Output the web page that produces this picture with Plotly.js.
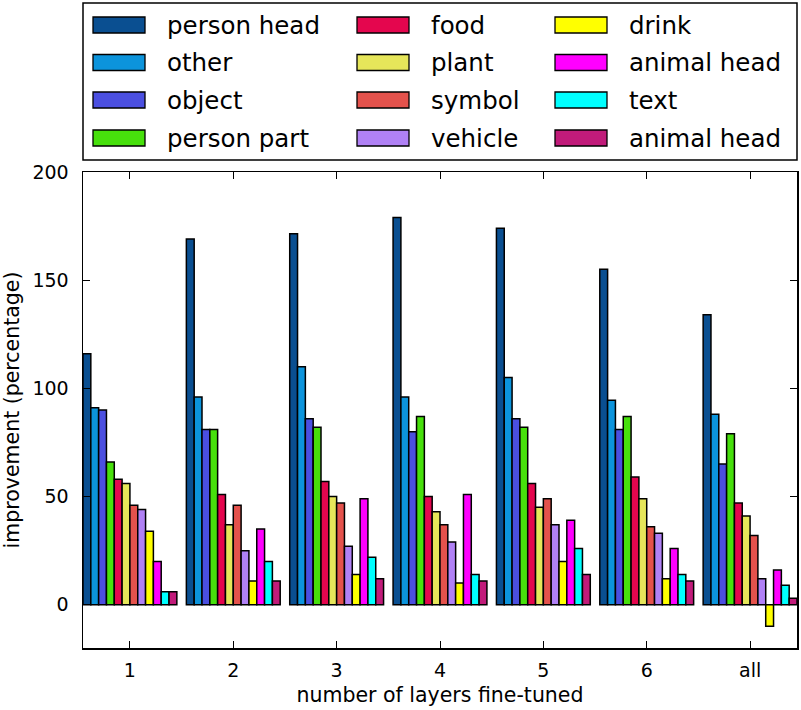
<!DOCTYPE html>
<html>
<head>
<meta charset="utf-8">
<script src="https://cdn.plot.ly/plotly-3.0.1.min.js"></script>
<style>html,body{margin:0;padding:0;background:#fff;}#chart{width:801px;height:710px;}</style>
</head>
<body>
<div id="chart"></div>
<script>
// ---- data ----
var groups = ['1', '2', '3', '4', '5', '6', 'all'];
var seriesNames = ['person head', 'other', 'object', 'person part', 'food', 'plant',
                   'symbol', 'vehicle', 'drink', 'animal head', 'text', 'animal head'];
var seriesColors = ['#0a4f91', '#0c94dc', '#4b4fe0', '#47e00c', '#e4064e', '#e6e65a',
                    '#e4524c', '#b081f5', '#ffff00', '#ff00ff', '#00ffff', '#c11b7a'];
var personHead  = [116, 169, 171.5, 179, 174, 155, 134];
var other       = [91, 96, 110, 96, 105, 94.5, 88];
var object      = [90, 81, 86, 80, 86, 81, 65];
var personPart  = [66, 81, 82, 87, 82, 87, 79];
var food        = [58, 51, 57, 50, 56, 59, 47];
var plant       = [56, 37, 50, 43, 45, 49, 41];
var symbol      = [46, 46, 47, 37, 49, 36, 32];
var vehicle     = [44, 25, 27, 29, 37, 33, 12];
var drink       = [34, 11, 14, 10, 20, 12, -10];
var animalHead  = [20, 35, 49, 51, 39, 26, 16];
var textCat     = [6, 20, 22, 14, 26, 14, 9];
var animalHead2 = [6, 11, 12, 11, 14, 11, 3];
var seriesValues = [personHead, other, object, personPart, food, plant,
                    symbol, vehicle, drink, animalHead, textCat, animalHead2];
var yTicks = [0, 50, 100, 150, 200];

// ---- traces ----
var traces = seriesNames.map(function (name, i) {
  return {
    type: 'bar',
    name: name,
    x: groups,
    y: seriesValues[i],
    marker: {color: seriesColors[i], line: {color: '#000', width: 1.5}},
    showlegend: false,
    hoverinfo: 'x+y+name'
  };
});

// ---- layout geometry (pixels) ----
var W = 801, H = 710, L = 83, R = 4, T = 172, B = 62;
var pw = W - L - R, ph = H - T - B;
function px(x) { return (x - L) / pw; }
function py(y) { return (H - B - y) / ph; }

var shapes = [{
  type: 'rect', xref: 'paper', yref: 'paper',
  x0: px(83), x1: px(797), y0: py(160), y1: py(3),
  line: {color: '#000', width: 1.5}, fillcolor: 'rgba(0,0,0,0)'
}];
var annotations = [];
var colSw = [93, 357, 555], colTx = [165, 429, 627], rowY = [25, 62.5, 100, 138];
seriesNames.forEach(function (name, i) {
  var c = Math.floor(i / 4), r = i % 4;
  shapes.push({
    type: 'rect', xref: 'paper', yref: 'paper',
    x0: px(colSw[c]), x1: px(colSw[c] + 52), y0: py(rowY[r] + 8), y1: py(rowY[r] - 8),
    line: {color: '#000', width: 1.3}, fillcolor: seriesColors[i]
  });
  annotations.push({
    xref: 'paper', yref: 'paper', x: px(colTx[c]), y: py(rowY[r]),
    xanchor: 'left', yanchor: 'middle', showarrow: false, text: name,
    font: {family: 'DejaVu Sans', size: 24.5, color: '#000'}
  });
});

var layout = {
  width: W, height: H,
  margin: {l: L, r: R, t: T, b: B, pad: 0},
  paper_bgcolor: '#fff', plot_bgcolor: '#fff',
  font: {family: 'DejaVu Sans', size: 19, color: '#000'},
  barmode: 'group', bargap: 0.092, bargroupgap: 0,
  showlegend: false,
  xaxis: {
    type: 'category', range: [-0.454, 6.454],
    showline: true, linecolor: '#000', linewidth: 1.5, mirror: 'ticks',
    ticks: 'inside', ticklen: 7, tickcolor: '#000', tickwidth: 1,
    showgrid: false, zeroline: false, ticklabelstandoff: 5,
    tickfont: {family: 'DejaVu Sans', size: 19},
    title: {text: 'number of layers fine-tuned', font: {family: 'DejaVu Sans', size: 20.5}, standoff: 7}
  },
  yaxis: {
    range: [-20, 200], tickvals: yTicks, ticktext: yTicks.map(String),
    showline: true, linecolor: '#000', linewidth: 1.5, mirror: 'ticks',
    ticks: 'inside', ticklen: 7, tickcolor: '#000', tickwidth: 1,
    showgrid: false, zeroline: false, ticklabelstandoff: 9,
    tickfont: {family: 'DejaVu Sans', size: 19},
    title: {text: 'improvement (percentage)', font: {family: 'DejaVu Sans', size: 20.5}, standoff: 10}
  },
  shapes: shapes,
  annotations: annotations
};

Plotly.newPlot('chart', traces, layout, {displayModeBar: false, staticPlot: true});
</script>
</body>
</html>
